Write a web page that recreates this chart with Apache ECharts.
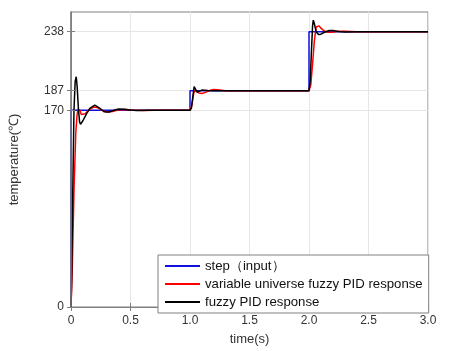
<!DOCTYPE html>
<html><head><meta charset="utf-8">
<script src="https://cdn.jsdelivr.net/npm/echarts@6/dist/echarts.min.js"></script>
<style>html,body{margin:0;padding:0;background:#fff}#c{width:474px;height:351px}</style>
</head><body><div id="c"></div>
<script>
// ---- data ----
var xTicks = [0, 0.5, 1.0, 1.5, 2.0, 2.5, 3.0];
var yTicks = [0, 170, 187, 238];
var seriesNames = ['step\uff08input\uff09', 'variable universe fuzzy PID response', 'fuzzy PID response'];

var stepInput = [[0,0],[0,170],[1,170],[1,187],[2,187],[2,238],[3,238]];

var variableFuzzy = [
  [0,0],[0.01,30],[0.025,100],[0.04,150],[0.05,165],[0.058,171],[0.065,172.5],[0.075,170],
  [0.085,166.5],[0.1,165.5],[0.12,167],[0.15,170.5],[0.19,172.8],[0.22,172.5],[0.26,170],
  [0.3,168.5],[0.35,169],[0.4,170.5],[0.45,170.7],[0.5,170.2],[0.6,169.9],[0.7,170],[1.0,170],
  [1.015,174],[1.03,184],[1.04,187.5],[1.055,186.5],[1.075,185],[1.1,184.5],[1.13,185.5],
  [1.17,187.3],[1.2,188],[1.25,187.6],[1.3,187],[1.4,187],[2.0,187],
  [2.015,192],[2.03,210],[2.045,230],[2.06,242],[2.07,243.5],[2.085,243],[2.1,241],[2.13,238.5],
  [2.16,237.5],[2.2,237.6],[2.25,238.3],[2.3,238.4],[2.4,238],[3,238]
];

var fuzzyPID = [
  [0,0],[0.005,20],[0.015,100],[0.025,170],[0.035,195],[0.044,199],[0.052,190],[0.062,172],
  [0.072,160],[0.08,158],[0.1,161],[0.13,167],[0.16,172],[0.2,174.5],[0.24,172],[0.28,168.7],
  [0.32,168.5],[0.36,170],[0.4,171.2],[0.45,171],[0.5,170.2],[0.55,169.8],[0.65,170],[1.0,170],
  [1.012,172],[1.025,183],[1.035,190.5],[1.045,189],[1.06,185.8],[1.075,186],[1.1,187.5],
  [1.15,187.2],[1.2,187],[2.0,187],
  [2.01,195],[2.02,220],[2.03,243],[2.036,248],[2.045,245],[2.06,238],[2.08,235.5],[2.1,235.8],
  [2.13,237.5],[2.17,239],[2.2,239],[2.25,238.2],[2.3,237.8],[2.4,238],[3,238]
];

var chart = echarts.init(document.getElementById('c'));
var font = 'Liberation Sans, Arial, sans-serif';
var axisGray = '#808080';
var gridGray = '#e6e6e6';
var labelColor = '#333';

function fmtX(v){ return v === 0 ? '0' : v.toFixed(1); }

chart.setOption({
  animation: false,
  backgroundColor: '#fff',
  grid: {left: 68, right: 46, top: 12, bottom: 37, show: true, borderColor: axisGray, borderWidth: 1},
  xAxis: [{
    type: 'value', min: 0, max: 3, interval: 0.5,
    name: 'time(s)', nameLocation: 'middle', nameGap: 26,
    nameTextStyle: {fontFamily: font, fontSize: 13, color: labelColor},
    axisLine: {show: true, onZero: false, lineStyle: {color: axisGray}},
    axisTick: {show: true, inside: true, length: 4, lineStyle: {color: axisGray}},
    axisLabel: {fontFamily: font, fontSize: 12, color: labelColor, margin: 8, formatter: fmtX},
    splitLine: {show: true, lineStyle: {color: gridGray}}
  }, {
    type: 'value', min: 0, max: 3, interval: 0.5, position: 'top',
    axisLine: {show: true, lineStyle: {color: axisGray}},
    axisTick: {show: true, inside: true, length: 4, lineStyle: {color: axisGray}},
    axisLabel: {show: false}, splitLine: {show: false}
  }],
  yAxis: [{
    type: 'value', min: 0, max: 255, z: 10,
    name: 'temperature(\u2103)', nameLocation: 'middle', nameGap: 50,
    nameTextStyle: {fontFamily: font, fontSize: 13, color: labelColor},
    axisLine: {show: true, onZero: false, lineStyle: {color: axisGray, width: 1.5}},
    axisTick: {show: true, inside: true, length: 4, customValues: yTicks, lineStyle: {color: axisGray}},
    axisLabel: {fontFamily: font, fontSize: 12, color: labelColor, margin: 7, customValues: yTicks},
    splitLine: {show: false}
  }, {
    type: 'value', min: 0, max: 255, position: 'right',
    axisLine: {show: true, lineStyle: {color: axisGray}},
    axisTick: {show: true, inside: true, length: 4, customValues: yTicks, lineStyle: {color: axisGray}},
    axisLabel: {show: false}, splitLine: {show: false}
  }],
  legend: {
    orient: 'vertical', left: 158, top: 255,
    backgroundColor: '#fff', borderColor: '#808080', borderWidth: 1,
    padding: [3, 6, 3, 7], itemGap: 2, itemWidth: 35, itemHeight: 2,
    icon: 'rect',
    textStyle: {fontFamily: font, fontSize: 13.2, lineHeight: 16, color: '#111'},
    data: seriesNames
  },
  series: [{
    name: seriesNames[0], type: 'line', data: stepInput, symbol: 'none',
    lineStyle: {color: '#1010e0', width: 1.5}, itemStyle: {color: '#1010e0'}, z: 2,
    markLine: {
      silent: true, symbol: 'none', label: {show: false},
      lineStyle: {color: gridGray, width: 1, type: 'solid'},
      data: yTicks.slice(1).map(function(v){ return {yAxis: v}; }), z: 1
    }
  }, {
    name: seriesNames[1], type: 'line', data: variableFuzzy, symbol: 'none',
    lineStyle: {color: '#ff0000', width: 1.5}, itemStyle: {color: '#ff0000'}, z: 3
  }, {
    name: seriesNames[2], type: 'line', data: fuzzyPID, symbol: 'none',
    lineStyle: {color: '#000000', width: 1.5}, itemStyle: {color: '#000000'}, z: 4
  }]
});
</script>
</body></html>
